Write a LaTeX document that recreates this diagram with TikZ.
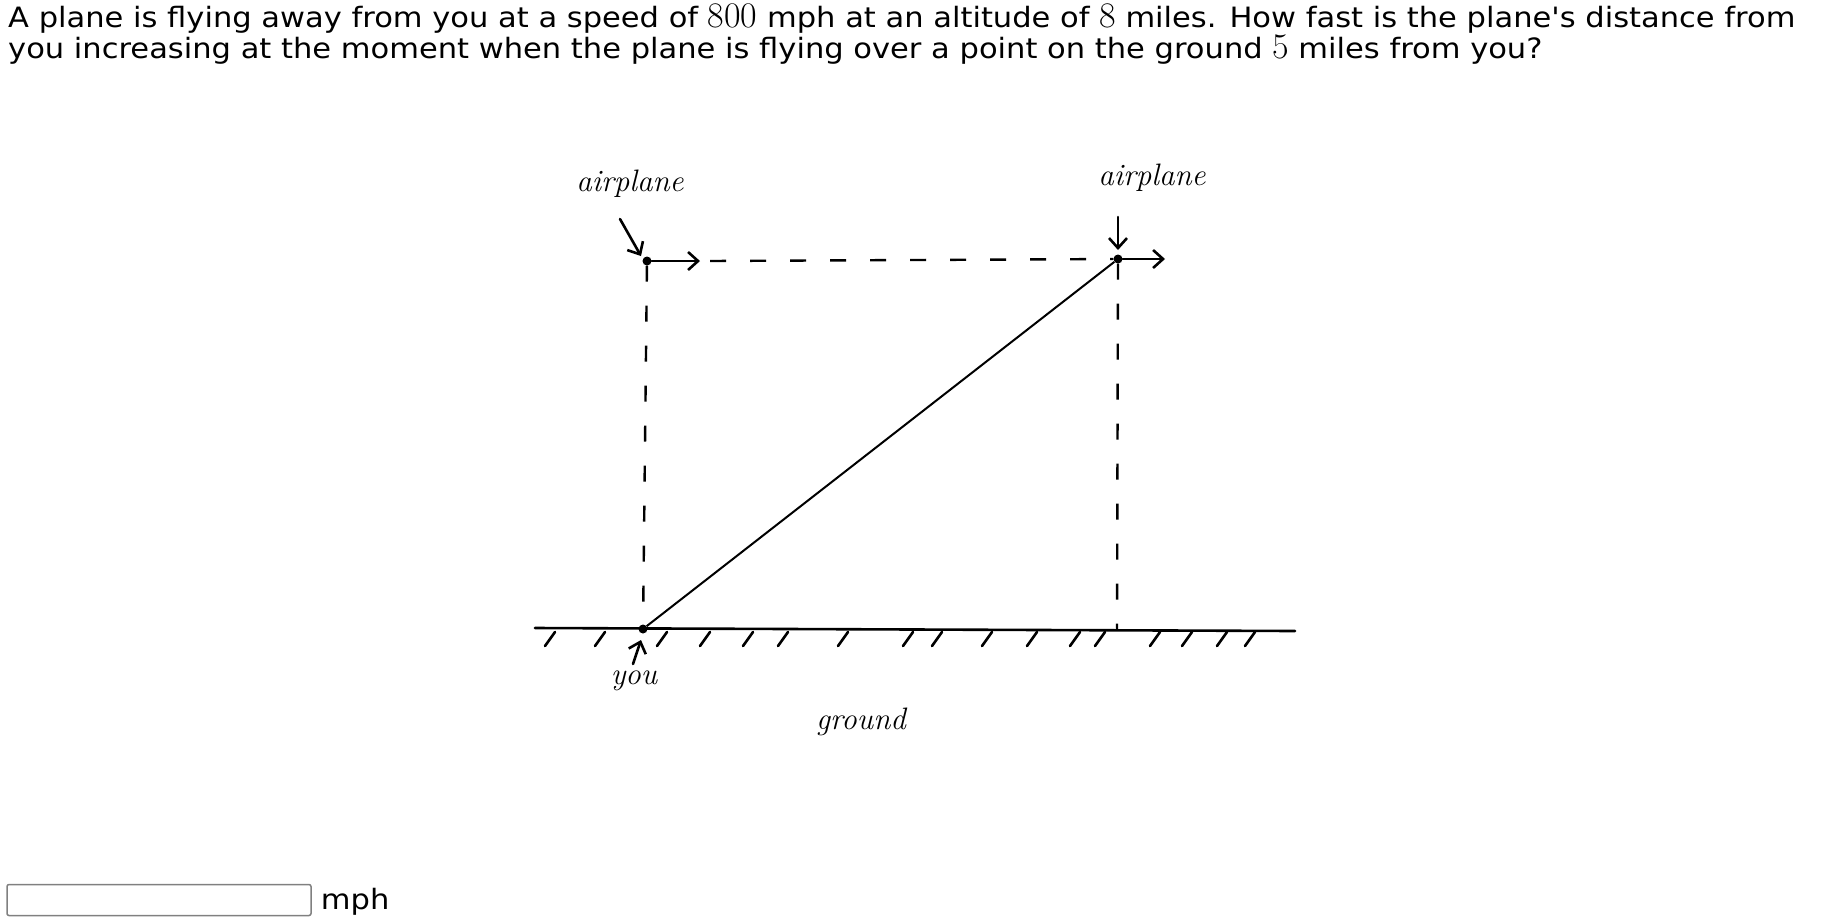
\documentclass[tikz,border=0pt]{standalone}
\usepackage{fontspec}
\setsansfont{DejaVu Sans}[Ligatures=TeXOff, FakeStretch=1.09]
\usepackage{tikz}
\usetikzlibrary{arrows.meta}
\usetikzlibrary{positioning}
\newcommand{\bignum}[1]{{\rmfamily\fontsize{36}{28}\selectfont #1}}
\tikzset{
    dot/.style={
           circle,
           fill=black,
           inner sep=0pt,
           minimum size=9pt,
           },
    hand/.style={font=\fontsize{31}{31}\selectfont\itshape, inner sep=0pt},
    question/.style={anchor=base west, inner sep=0pt, font=\sffamily\fontsize{28}{28}\selectfont},
    pen/.style={line width=2.6pt, line cap=round},
    guide/.style={line width=2.4pt, dash pattern=on 16pt off 24pt},
    barb/.style={-{Straight Barb[length=10pt,width=18pt,line width=2.6pt]}},
}

\begin{document}
\begin{tikzpicture}[x=1pt, y=-1pt]

 % page size of the reference
 \useasboundingbox (0,0) rectangle (1824,922);

 % the question, two lines
 \node[question] (line1) at (8,27)
  {A plane is flying away from you at a speed of \bignum{800} mph at an altitude of \bignum{8} miles. How fast is the plane's distance from};
 \node[question] (line2) at (8,58)
  {you increasing at the moment when the plane is flying over a point on the ground \bignum{5} miles from you?};

 % plane positions and the observer
 \node[dot] (planeA) at (647,261) {};
 \node[dot] (planeB) at (1118,259) {};
 \node[dot] (you) at (643,629) {};

 % handwritten labels
 \node[hand] (labA) at (630,184) {airplane};
 \node[hand] (labB) at (1152,178) {airplane};
 \node[hand] (youlab) at (634,681) {you};
 \node[hand] (groundlab) at (861,722) {ground};

 % ground line with hatching
 \coordinate (gL) at (535,628);
 \coordinate (gR) at (1295,631);
 \draw[pen] (gL) -- (gR);
 \foreach \x in {555,605,667,710,753,788,848,913,942,992,1037,1080,1105,1160,1192,1227,1255}
   \draw[pen] (\x,632) -- ++(-10,14);

 % distance plane -- you
 \draw[line width=2pt] (you) -- (planeB);

 % dashed guides
 \coordinate (foot) at (1117,630);
 \coordinate (dashS) at (710,261);
 \draw[guide] (planeA) -- (you);
 \draw[guide] (planeB) -- (foot);
 \draw[guide] (dashS) -- (planeB);

 % velocity arrows
 \coordinate (headA) at (700,261);
 \coordinate (headB) at (1165,259);
 \draw[pen,barb] (planeA) -- (headA);
 \draw[pen,barb] (planeB) -- (headB);

 % pointers from the labels
 \coordinate (tailA) at (620,219);
 \coordinate (tailB) at (1118,217);
 \coordinate (tailY) at (633,664);
 \draw[pen,barb] (tailA) -- ([shift={(-6,-5)}]planeA.center);
 \draw[pen,barb] (tailB) -- ([shift={(0,-9)}]planeB.center);
 \draw[pen,barb] (tailY) -- ([shift={(-2,11)}]you.center);

 % answer field
 \node[draw=gray, line width=1.5pt, rounded corners=2pt, minimum width=304pt, minimum height=31pt,
  inner sep=0pt] (answer) at (159,900) {};
 \node[anchor=base west, inner sep=0pt, font=\sffamily\fontsize{28}{28}\selectfont,
  right=9pt of answer.east, yshift=-2pt] (unit) {mph};

\end{tikzpicture}
\end{document}
